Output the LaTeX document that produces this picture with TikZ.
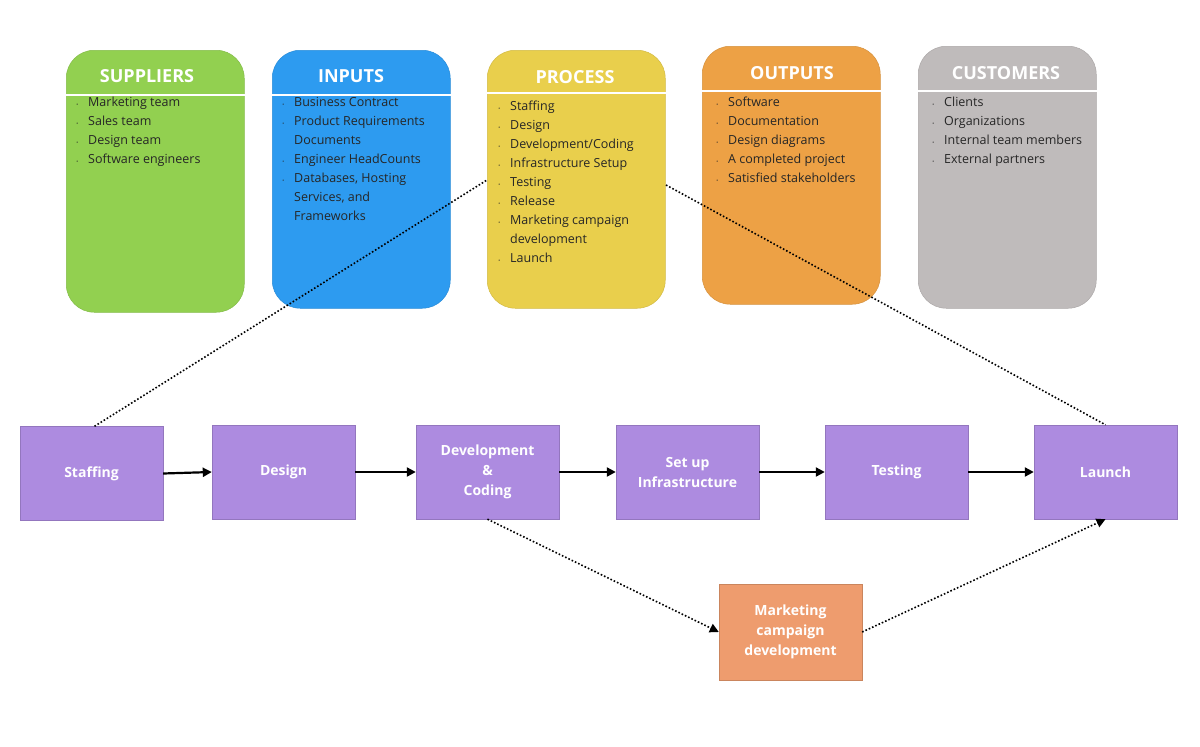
\documentclass[tikz,border=0pt]{standalone}
\usepackage{fontspec}
\setmainfont{Open Sans}
\usetikzlibrary{arrows.meta}
\definecolor{cgreen}{HTML}{92D050}
\definecolor{cblue}{HTML}{2D9BF0}
\definecolor{cyellow}{HTML}{E9CF4C}
\definecolor{corange}{HTML}{EDA145}
\definecolor{cgrey}{HTML}{BFBBBB}
\definecolor{cpurple}{HTML}{AD8BE0}
\definecolor{cmark}{HTML}{EE9C6E}
\newcommand{\bl}[1]{\makebox[22pt][c]{\tiny\textbullet}#1\\}
\begin{document}
\begin{tikzpicture}[x=1pt,y=-1pt,
  card/.style={draw=#1!90!black,line width=0.5pt,fill=#1,rounded corners=28pt,minimum width=178pt,minimum height=260pt,anchor=north west,inner sep=0},
  head/.style={text=white,font=\bfseries\fontsize{18}{20}\selectfont},
  list/.style={anchor=north west,align=left,font=\fontsize{12.5}{19}\selectfont,inner sep=0,text=black!85},
  sbox/.style={fill=cpurple,draw=cpurple!85!black,line width=0.4pt,minimum width=143pt,minimum height=94pt,text=white,font=\bfseries\fontsize{14}{20}\selectfont,align=center,inner sep=0},
  arr/.style={line width=2.2pt,-{Triangle[length=9pt,width=9pt]}},
  dot/.style={line width=1.6pt,dotted},
  darr/.style={dot,-{Triangle[length=9pt,width=9pt]}}]
\useasboundingbox (0,0) rectangle (1200,747);
\node[card=cgreen,minimum height=262pt] (sup) at (66,50) {};
\node[card=cblue,minimum height=258pt] (inp) at (272,50) {};
\node[card=cyellow,minimum height=258pt] (pro) at (487,50) {};
\node[card=corange,minimum height=258pt] (out) at (702,46) {};
\node[card=cgrey,minimum height=262pt] (cus) at (918,46) {};
\foreach \c/\y in {sup/95,inp/95,pro/93,out/91,cus/91}{
  \draw[white,line width=2pt] (\c.west |- 0,\y) -- (\c.east |- 0,\y);}
\node[head] (hs) at (147,76) {SUPPLIERS};
\node[head] (hi) at (351,76) {INPUTS};
\node[head] (hp) at (575,77) {PROCESS};
\node[head] (ho) at (792,73) {OUTPUTS};
\node[head] (hc) at (1006,73) {CUSTOMERS};
\node[list] (ls) at (66,97) {\bl{Marketing team}\bl{Sales team}\bl{Design team}\bl{Software engineers}};
\node[list] (li) at (272,97) {\bl{Business Contract}\bl{Product Requirements}\hspace*{22pt}Documents\\\bl{Engineer HeadCounts}\bl{Databases, Hosting}\hspace*{22pt}Services, and\\\hspace*{22pt}Frameworks\\};
\node[list] (lp) at (488,101) {\bl{Staffing}\bl{Design}\bl{Development/Coding}\bl{Infrastructure Setup}\bl{Testing}\bl{Release}\bl{Marketing campaign}\hspace*{22pt}development\\\bl{Launch}};
\node[list] (lo) at (706,97) {\bl{Software}\bl{Documentation}\bl{Design diagrams}\bl{A completed project}\bl{Satisfied stakeholders}};
\node[list] (lc) at (922,97) {\bl{Clients}\bl{Organizations}\bl{Internal team members}\bl{External partners}};
\node[sbox] (s1) at (91.5,473.5) {Staffing};
\node[sbox] (s2) at (283.5,472) {Design};
\node[sbox] (s3) at (487.5,472) {Development\\\&\\Coding};
\node[sbox] (s4) at (687.5,472) {Set up\\Infrastructure};
\node[sbox] (s5) at (896.5,472) {Testing};
\node[sbox] (s6) at (1105.5,472) {Launch};
\node[sbox,fill=cmark,draw=cmark!85!black,minimum height=96pt] (m) at (790.5,632) {Marketing\\campaign\\development};
\draw[arr] (s1.east) -- (s2.west);
\draw[arr] (s2) -- (s3);
\draw[arr] (s3) -- (s4);
\draw[arr] (s4) -- (s5);
\draw[arr] (s5) -- (s6);
\coordinate (p1) at (487,180);
\coordinate (p2) at (666,185);
\draw[dot] ([xshift=3pt]s1.north) -- (p1);
\draw[dot] (p2) -- (s6.north);
\draw[darr] (s3.south) -- (m.west);
\draw[darr] (m.east) -- (s6.south);
\end{tikzpicture}
\end{document}
